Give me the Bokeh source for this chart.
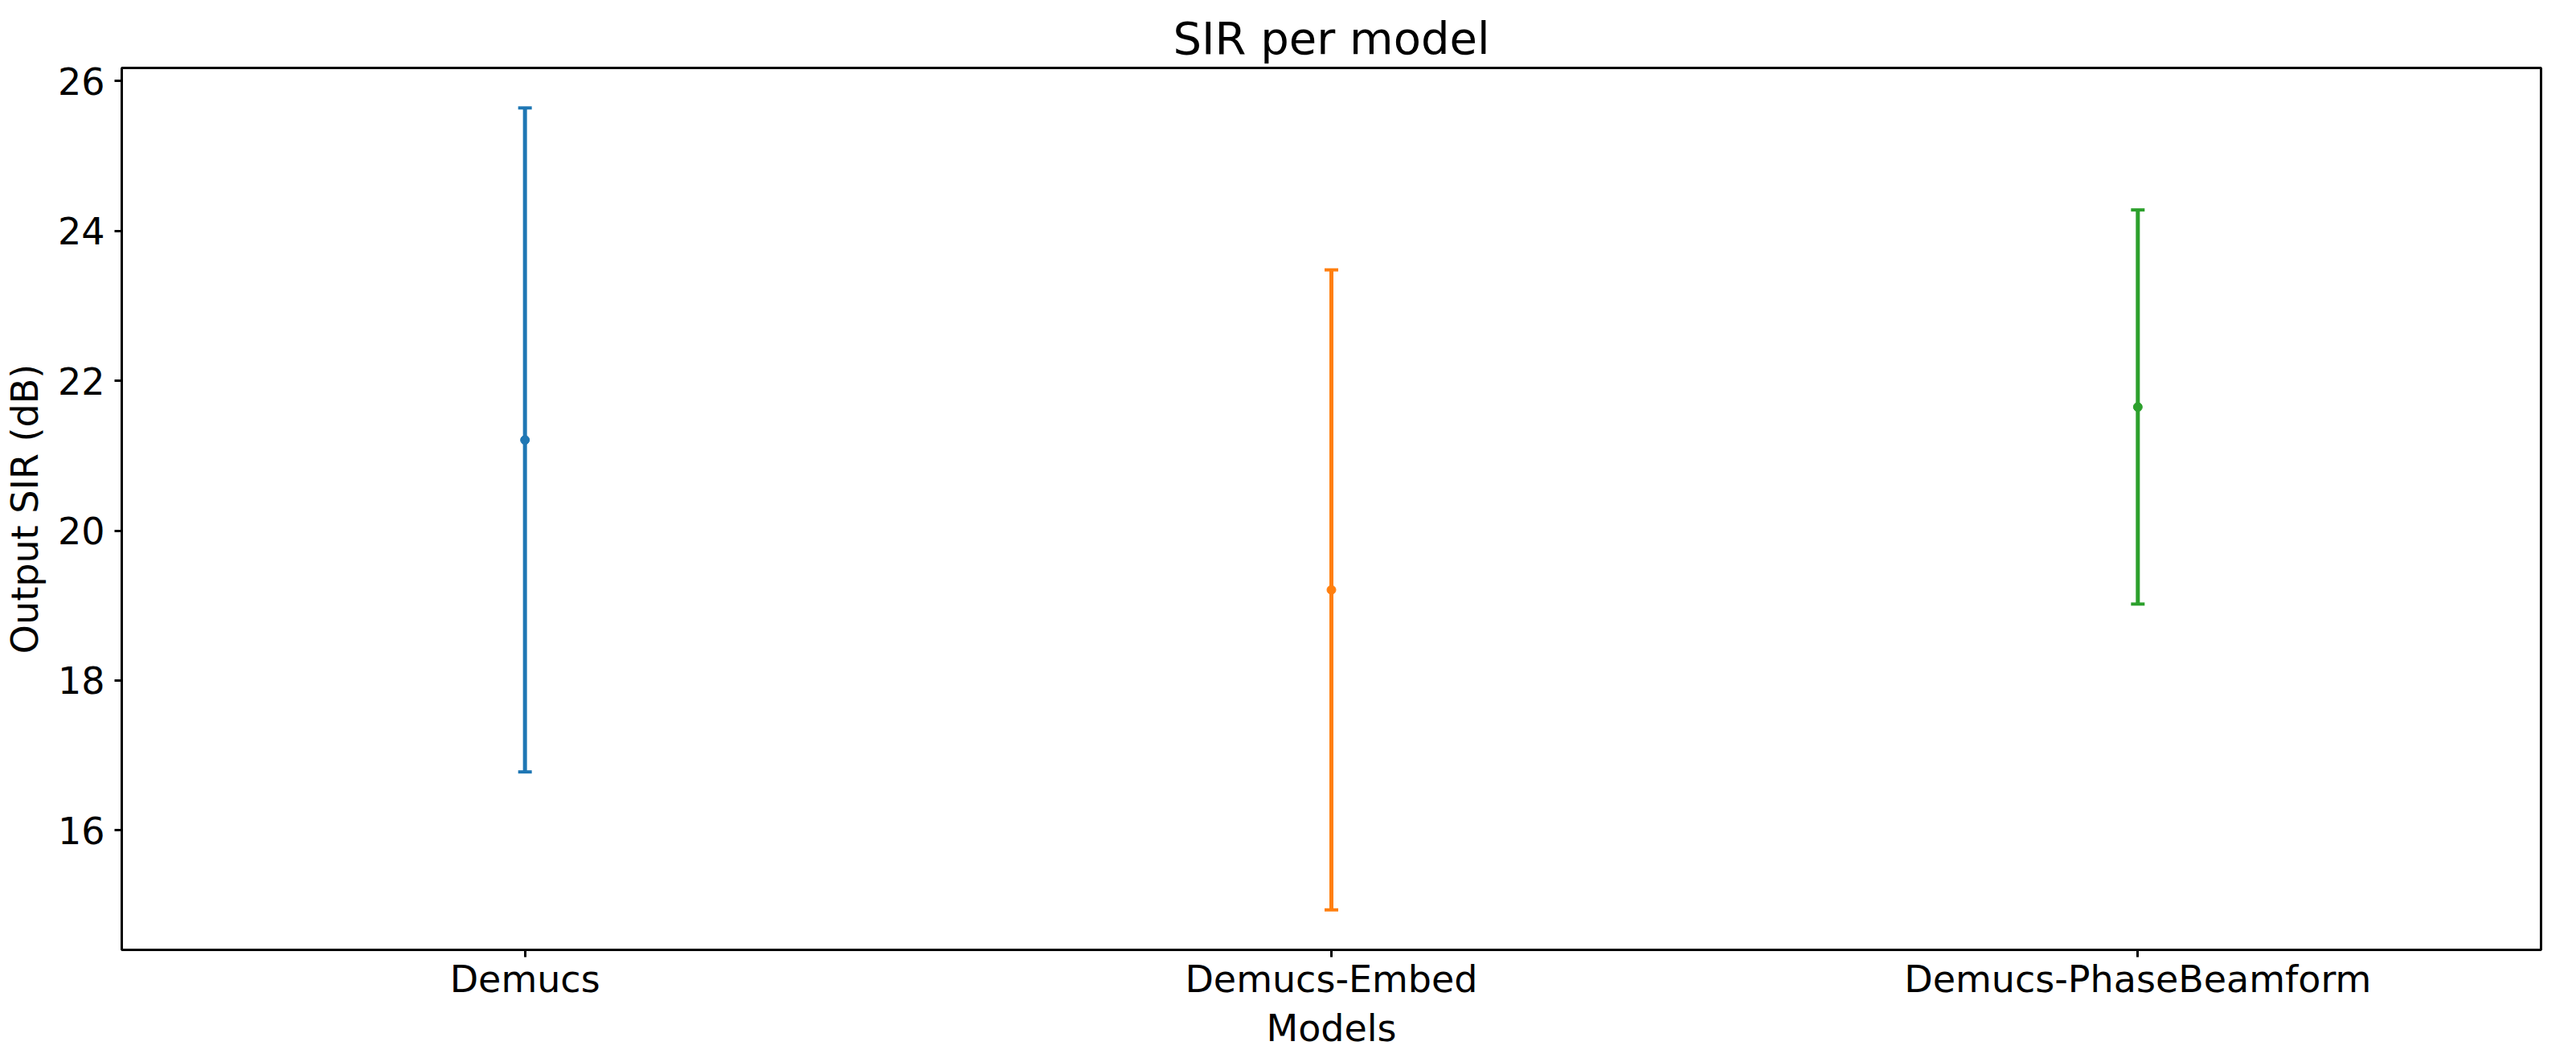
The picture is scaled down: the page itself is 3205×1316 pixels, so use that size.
from bokeh.plotting import figure
from bokeh.models import FactorRange, Range1d, FixedTicker, ColumnDataSource
from bokeh.embed import file_html
from bokeh.resources import INLINE

# ---- data ----
models = ["Demucs", "Demucs-Embed", "Demucs-PhaseBeamform"]
means = [21.21, 19.21, 21.65]
stds = [4.43, 4.27, 2.63]
colors = ["#1f77b4", "#ff7f0e", "#2ca02c"]
y_ticks = [16, 18, 20, 22, 24, 26]

lower = [m - s for m, s in zip(means, stds)]
upper = [m + s for m, s in zip(means, stds)]
src = ColumnDataSource(dict(model=models, mean=means, lower=lower,
                            upper=upper, color=colors))

lo, hi = min(lower), max(upper)
pad = 0.05 * (hi - lo)

FONT = "DejaVu Sans"
W, H = 3189, 1308
p = figure(x_range=FactorRange(*models), y_range=Range1d(lo - pad, hi + pad),
           width=W, height=H, output_backend="svg", toolbar_location=None,
           title="SIR per model",
           min_border_left=143, min_border_right=28,
           min_border_top=84, min_border_bottom=110)

p.background_fill_color = "white"
p.border_fill_color = "white"
p.outline_line_color = "black"
p.outline_line_width = 3
p.xgrid.visible = False
p.ygrid.visible = False

p.title.text_font = FONT
p.title.text_font_size = "56px"
p.title.text_font_style = "normal"
p.title.align = "center"
p.title.text_color = "black"

for ax in (p.xaxis[0], p.yaxis[0]):
    ax.axis_line_color = None
    ax.major_tick_line_color = "black"
    ax.major_tick_line_width = 3
    ax.major_tick_out = 9
    ax.major_tick_in = 0
    ax.minor_tick_line_color = None
    ax.major_label_text_font = FONT
    ax.major_label_text_font_size = "46px"
    ax.major_label_text_color = "black"
    ax.axis_label_text_font = FONT
    ax.axis_label_text_font_size = "46px"
    ax.axis_label_text_font_style = "normal"
    ax.axis_label_text_color = "black"

p.xaxis.axis_label = "Models"
p.yaxis.axis_label = "Output SIR (dB)"
p.yaxis.ticker = FixedTicker(ticks=y_ticks)
p.yaxis.major_label_standoff = 12
p.yaxis.axis_label_standoff = 11
p.xaxis.major_label_standoff = 0
p.xaxis.axis_label_standoff = 4
p.xaxis.major_label_orientation = "horizontal"

p.segment(x0="model", y0="lower", x1="model", y1="upper", source=src,
          line_color="color", line_width=5)
p.scatter(x="model", y="lower", source=src, marker="dash", size=17,
          line_color="color", line_width=4)
p.scatter(x="model", y="upper", source=src, marker="dash", size=17,
          line_color="color", line_width=4)
p.scatter(x="model", y="mean", source=src, marker="circle", size=11,
          fill_color="color", line_color="color")

open("out.html", "w").write(file_html(p, INLINE))
